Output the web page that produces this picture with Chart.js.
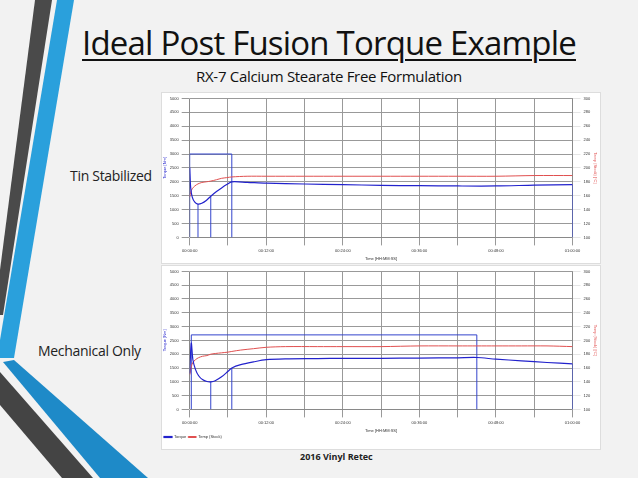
<!DOCTYPE html>
<html><head><meta charset="utf-8">
<script src="https://cdn.jsdelivr.net/npm/chart.js@4"></script>
<style>
body{margin:0;width:638px;height:478px;background:#f2f2f2;position:relative;overflow:hidden;font-family:"Open Sans",Calibri,sans-serif}
#title{position:absolute;left:0;width:638px;top:20px;text-align:center;font-size:33px;color:#111;text-decoration:underline;text-decoration-thickness:2px;text-underline-offset:4px;padding-left:20px;box-sizing:border-box;letter-spacing:-0.8px}
#sub{position:absolute;left:0;width:638px;top:66px;text-align:center;font-size:15px;color:#111;padding-left:20px;box-sizing:border-box;letter-spacing:-0.3px}
.lab{position:absolute;font-size:14px;color:#222;letter-spacing:-0.3px}
.box{position:absolute;left:161px;width:438px;background:#fff;border:1px solid #ddd}
#foot{position:absolute;left:300px;top:450px;font-size:9px;font-weight:bold;color:#222}
</style></head><body>
<svg width="160" height="478" style="position:absolute;left:0;top:0">
<polygon points="35,0 52,0 3,315 0,315 0,270" fill="#4a4a4a"/>
<polygon points="57,0 74,0 14,358 0,358 0,340" fill="#2aa0dc"/>
<polygon points="3,362 14,360 148,478 100,478" fill="#1e8ac8"/>
<polygon points="0,372 93,478 62,478 0,405" fill="#444"/>
</svg>
<div id="title">Ideal Post Fusion Torque Example</div>
<div id="sub">RX-7 Calcium Stearate Free Formulation</div>
<div class="lab" style="left:70px;top:166px">Tin Stabilized</div>
<div class="lab" style="left:38px;top:341px">Mechanical Only</div>
<div class="box" style="top:92px;height:170px"><canvas id="c1"></canvas></div>
<div class="box" style="top:265px;height:183px"><canvas id="c2"></canvas></div>
<div id="foot">2016 Vinyl Retec</div>
<script>
const xTicksMin = [0, 12, 24, 36, 48, 60];
const xTickLabels = ["00:00:00", "00:12:00", "00:24:00", "00:36:00", "00:48:00", "01:00:00"];

const topTime = [0, 0.15, 0.4, 0.8, 1.3, 1.9, 2.6, 3.3, 4.2, 5, 5.8, 6.6, 9, 12, 18, 24, 30, 36, 42, 48, 54, 60];
const topTorque = [2500, 1800, 1450, 1270, 1200, 1230, 1330, 1480, 1650, 1780, 1900, 2000, 1980, 1950, 1920, 1900, 1870, 1860, 1850, 1850, 1880, 1900];
const topTemp = [158, 165, 170, 174, 177, 179, 180, 181, 183, 185, 186, 187, 188, 188, 188, 188, 188, 188, 188, 188, 189, 189];
const topEvents = [0, 1.3, 3.3, 6.6, 60];
const topEventTops = [3000, 1200, 1480, 3000, 1900];
const topSpan = [0, 6.6, 3000];

const botTime = [0, 0.25, 0.5, 0.9, 1.4, 2, 2.7, 3.3, 4, 5, 6, 6.6, 8, 10, 12, 15, 20, 24, 30, 36, 42, 45, 48, 52, 56, 60];
const botTorque = [1300, 2400, 1800, 1450, 1220, 1080, 1010, 1000, 1040, 1180, 1380, 1500, 1620, 1720, 1800, 1830, 1840, 1850, 1850, 1860, 1870, 1880, 1820, 1760, 1700, 1650];
const botTemp = [150, 162, 168, 172, 175, 177, 178, 180, 181, 182, 183, 184, 186, 188, 190, 191, 191, 191, 191, 192, 192, 192, 192, 192, 192, 191];
const botEvents = [0.25, 3.3, 6.6, 45, 60];
const botEventTops = [2700, 1000, 1500, 2700, 1650];
const botSpan = [0.25, 45, 2700];

function pts(xs, ys) { return xs.map((x, i) => ({ x: x, y: ys[i] })); }
function markerPts(events, tops, span) {
  const out = [];
  events.forEach((e, i) => { out.push({ x: e, y: 0 }, { x: e, y: tops[i] }, { x: e, y: null }); });
  out.push({ x: span[0], y: span[2] }, { x: span[1], y: span[2] });
  return out;
}

function make(id, t, torque, temp, events, tops, span, legend) {
  new Chart(document.getElementById(id), {
    type: "line",
    data: {
      datasets: [
        { label: "Torque", data: pts(t, torque), borderColor: "#2222cc", borderWidth: 1.2, pointRadius: 0, tension: 0.3, yAxisID: "y" },
        { label: "Temp (Stock)", data: pts(t, temp), borderColor: "#e05050", borderWidth: 1, pointRadius: 0, tension: 0.3, yAxisID: "y2" },
        { label: "ev", data: markerPts(events, tops, span), borderColor: "#3344cc", borderWidth: 1, pointRadius: 0, spanGaps: false, yAxisID: "y" }
      ]
    },
    options: {
      responsive: true, maintainAspectRatio: false, animation: false,
      layout: { padding: { top: 2, right: 2, bottom: legend ? 0 : 2 } },
      plugins: {
        legend: { display: legend, position: "bottom", align: "start",
          labels: { boxWidth: 8, boxHeight: 1, font: { size: 4 }, color: "#333", padding: 2, filter: i => i.text !== "ev" } },
        tooltip: { enabled: false }
      },
      scales: {
        x: { type: "linear", min: 0, max: 60,
          afterBuildTicks: a => { a.ticks = [0, 6, 12, 18, 24, 30, 36, 42, 48, 54, 60].map(v => ({ value: v })); },
          ticks: { font: { size: 4 }, color: "#333", maxRotation: 0, autoSkip: false,
            callback: v => { const i = xTicksMin.indexOf(v); return i >= 0 ? xTickLabels[i] : ""; } },
          grid: { color: "#999" },
          title: { display: true, text: "Time [HH:MM:SS]", font: { size: 4 }, color: "#333", padding: 0 } },
        y: { min: 0, max: 5000, ticks: { stepSize: 500, font: { size: 4 }, color: "#333", callback: v => String(v) }, grid: { color: "#999" },
          title: { display: true, text: "Torque [Nm]", font: { size: 4 }, color: "#2222cc", padding: 0 } },
        y2: { position: "right", min: 100, max: 300, ticks: { stepSize: 20, font: { size: 4 }, color: "#333" }, grid: { drawOnChartArea: false },
          title: { display: true, text: "Temp (Stock) [°C]", font: { size: 4 }, color: "#e05050", padding: 0 } }
      }
    }
  });
}
make("c1", topTime, topTorque, topTemp, topEvents, topEventTops, topSpan, false);
make("c2", botTime, botTorque, botTemp, botEvents, botEventTops, botSpan, true);
</script>
</body></html>
